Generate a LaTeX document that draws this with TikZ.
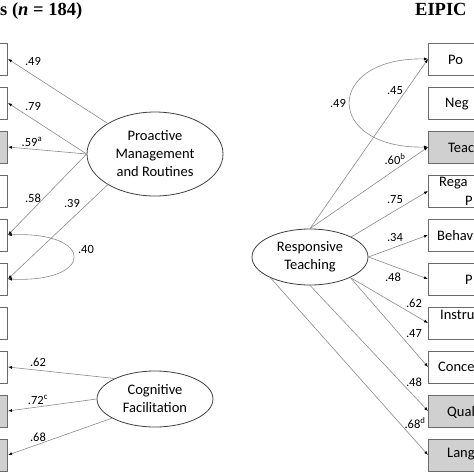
\documentclass[tikz,border=0pt]{standalone}
\usepackage{fontspec}
\setmainfont{Carlito}
\newfontfamily\titlefont{Liberation Serif}
\usetikzlibrary{arrows.meta,shapes.geometric}
\definecolor{boxc}{HTML}{6A6A6A}
\definecolor{boxfill}{HTML}{D0D0D0}
\definecolor{latc}{HTML}{404040}
\definecolor{linec}{HTML}{8A8A8A}
\begin{document}
\begin{tikzpicture}[x=1pt,y=-1pt,
  obs/.style={draw=boxc, line width=0.8pt, minimum width=100pt, minimum height=32pt, inner sep=0pt},
  shaded/.style={obs, fill=boxfill},
  lat/.style={ellipse, draw=latc, line width=0.8pt, inner sep=0pt, align=center, font=\fontsize{14.5}{18}\selectfont},
  path/.style={draw=linec, line width=0.6pt, -{Latex[length=4pt,width=3pt,color=black]}},
  cov/.style={draw=linec, line width=0.6pt, {Latex[length=4pt,width=3pt,color=black]}-{Latex[length=4pt,width=3pt,color=black]}},
  coef/.style={font=\fontsize{12.5}{14}\selectfont, inner sep=0pt},
  itemtxt/.style={font=\fontsize{14.5}{17}\selectfont, inner sep=0pt, anchor=west},
  ttl/.style={font=\titlefont\bfseries\fontsize{18.5}{20}\selectfont, inner sep=0pt, anchor=base west},
]
\useasboundingbox (0,0) rectangle (474,474);
\clip (0,0) rectangle (474,474);

% titles
\node[ttl] (t1) at (0,15) {s (\textit{n} = 184)};
\node[ttl] (t2) at (415,15) {EIPIC};

% left boxes
\node[obs, anchor=east] (L1) at (8,59) {};
\node[obs, anchor=east] (L2) at (8,103) {};
\node[shaded, anchor=east] (L3) at (8,147) {};
\node[obs, anchor=east] (L4) at (8,191) {};
\node[obs, anchor=east] (L5) at (8,235) {};
\node[obs, anchor=east] (L6) at (8,279) {};
\node[obs, anchor=east] (L7) at (8,323) {};
\node[obs, anchor=east] (L8) at (8,367) {};
\node[shaded, anchor=east] (L9) at (8,411) {};
\node[shaded, anchor=east] (L10) at (8,455) {};

% right boxes
\node[obs, anchor=west] (R1) at (428,59) {};
\node[obs, anchor=west] (R2) at (428,103) {};
\node[shaded, anchor=west] (R3) at (428,147) {};
\node[obs, anchor=west] (R4) at (428,191) {};
\node[obs, anchor=west] (R5) at (428,235) {};
\node[obs, anchor=west] (R6) at (428,279) {};
\node[obs, anchor=west] (R7) at (428,323) {};
\node[obs, anchor=west] (R8) at (428,367) {};
\node[shaded, anchor=west] (R9) at (428,411) {};
\node[shaded, anchor=west] (R10) at (428,455) {};

% right box texts (cut by the edge)
\node[itemtxt] (x1) at (448,60) {Po};
\node[itemtxt] (x2) at (445,104) {Neg};
\node[itemtxt] (x3) at (448,148) {Teac};
\node[itemtxt] (x4a) at (439,183) {Rega};
\node[itemtxt] (x4b) at (465,201) {P};
\node[itemtxt] (x5) at (437,236) {Behav};
\node[itemtxt] (x6) at (465,280) {P};
\node[itemtxt] (x7) at (440,315) {Instru};
\node[itemtxt] (x8) at (438,367) {Conce};
\node[itemtxt] (x9) at (447,412) {Qual};
\node[itemtxt] (x10) at (447,454) {Lang};

% latent variables
\node[lat, minimum width=136pt, minimum height=84pt] (pm) at (155,154) {Proactive\\Management\\and Routines};
\node[lat, minimum width=116pt, minimum height=56pt] (cf) at (155,399) {Cognitive\\Facilitation};
\node[lat, minimum width=116pt, minimum height=56pt] (rt) at (310,257) {Responsive\\Teaching};

% left paths
\draw[path] (pm) -- (L1.east);
\draw[path] (pm.west) -- (L2.east);
\draw[path] (pm.west) -- (L3.east);
\draw[path] (pm.west) -- (L5.east);
\draw[path] (pm.213) -- (L6.east);
\draw[cov] (L5.east) .. controls (95,231) and (95,283) .. (L6.east);

\draw[path] (cf.153) -- (L8.east);
\draw[path] (cf.west) -- (L9.east);
\draw[path] (cf.204) -- (L10.east);

% right paths
\draw[path] (rt.north) -- (R1.west);
\draw[path] (rt.north) -- (R3.west);
\draw[cov] (R1.west) .. controls (324,57) and (324,149) .. (R3.west);
\draw[path] (rt.26) -- (R4.west);
\draw[path] (rt.east) -- (R5.west);
\draw[path] (rt.east) -- (R6.west);
\draw[path] (rt.333) -- (R7.west);
\draw[path] (rt.333) -- (R8.west);
\draw[path] (rt.south) -- (R9.west);
\draw[path] (rt.208) -- (R10.west);

% coefficients left
\node[coef] (c1) at (33,61) {.49};
\node[coef] (c2) at (33,106) {.79};
\node[coef] (c3) at (32,142) {.59\textsuperscript{a}};
\node[coef] (c4) at (33,198) {.58};
\node[coef] (c5) at (72,203) {.39};
\node[coef] (c6) at (86,249) {.40};
\node[coef] (c7) at (38,362) {.62};
\node[coef] (c8) at (38,400) {.72\textsuperscript{c}};
\node[coef] (c9) at (38,437) {.68};

% coefficients right
\node[coef] (d0) at (338,103) {.49};
\node[coef] (d1) at (395,91) {.45};
\node[coef] (d2) at (395,159) {.60\textsuperscript{b}};
\node[coef] (d3) at (395,200) {.75};
\node[coef] (d4) at (395,237) {.34};
\node[coef] (d5) at (393,277) {.48};
\node[coef] (d6) at (414,303) {.62};
\node[coef] (d7) at (414,334) {.47};
\node[coef] (d8) at (414,382) {.48};
\node[coef] (d9) at (415,423) {.68\textsuperscript{d}};
\end{tikzpicture}
\end{document}
